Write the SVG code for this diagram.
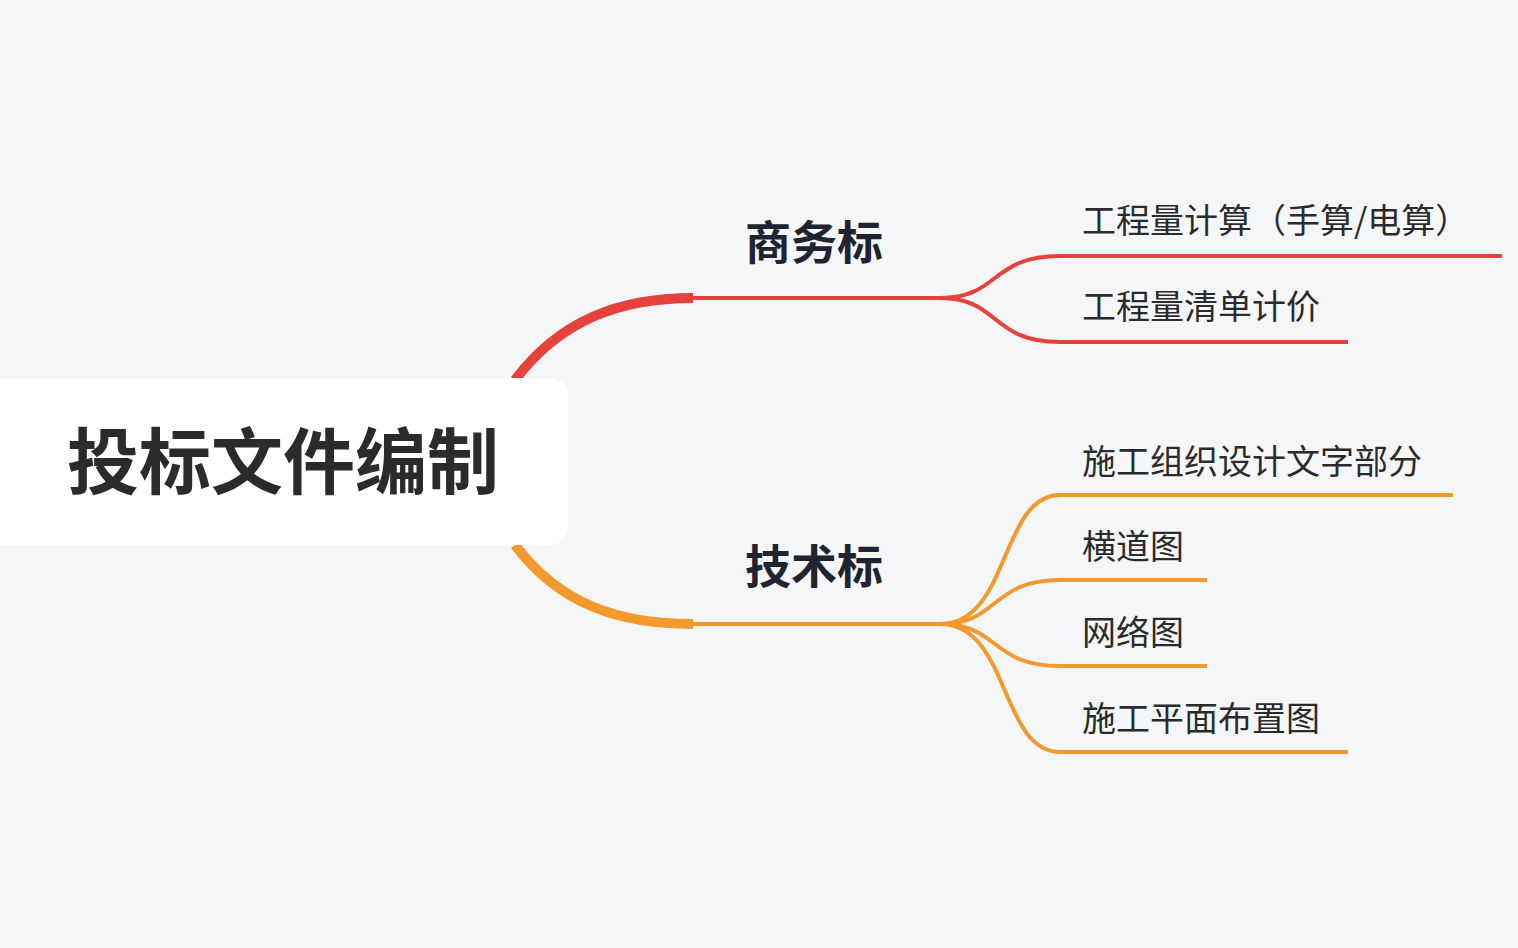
<svg xmlns="http://www.w3.org/2000/svg" width="1518" height="948" viewBox="0 0 1518 948">
<style>
.c{font-family:"Noto Sans CJK SC","Noto Sans",sans-serif;fill:#2b2b2b}
.m{font-size:46px;font-weight:bold;fill:#1f2430}
.s{font-size:34px}
.r{stroke:#e8413c;fill:none;stroke-width:4}
.o{stroke:#f3992e;fill:none;stroke-width:4}
</style>
<rect width="1518" height="948" fill="#f5f6f8"/>
<g id="connectors">
<path d="M515,380 C560,320 620,298 693,298" stroke="#e8413c" stroke-width="10" fill="none"/>
<path class="r" d="M693,298 H940 C1000,298 990,256 1060,256 H1502"/>
<path class="r" d="M940,298 C1000,298 990,342 1060,342 H1348"/>
<path d="M515,545 C560,605 620,624 693,624" stroke="#f3992e" stroke-width="10" fill="none"/>
<path class="o" d="M693,624 H940 C1010,624 1000,495 1060,495 H1453"/>
<path class="o" d="M940,624 C1000,624 990,580 1060,580 H1207"/>
<path class="o" d="M940,624 C1000,624 990,666 1060,666 H1207"/>
<path class="o" d="M940,624 C1010,624 1000,752 1060,752 H1348"/>
</g>
<g id="root"><rect x="-20" y="378" width="588" height="167" rx="18" fill="#fff"/>
<text class="c" x="283" y="488" text-anchor="middle" font-size="72" font-weight="bold" fill="#111">投标文件编制</text></g>
<g id="n1"><text class="c m" x="745" y="259">商务标</text></g>
<g id="n2"><text class="c m" x="745" y="583">技术标</text></g>
<g id="n11"><text class="c s" x="1082" y="233">工程量计算（手算/电算）</text></g>
<g id="n12"><text class="c s" x="1082" y="319">工程量清单计价</text></g>
<g id="n21"><text class="c s" x="1082" y="474">施工组织设计文字部分</text></g>
<g id="n22"><text class="c s" x="1082" y="559">横道图</text></g>
<g id="n23"><text class="c s" x="1082" y="645">网络图</text></g>
<g id="n24"><text class="c s" x="1082" y="731">施工平面布置图</text></g>
</svg>
